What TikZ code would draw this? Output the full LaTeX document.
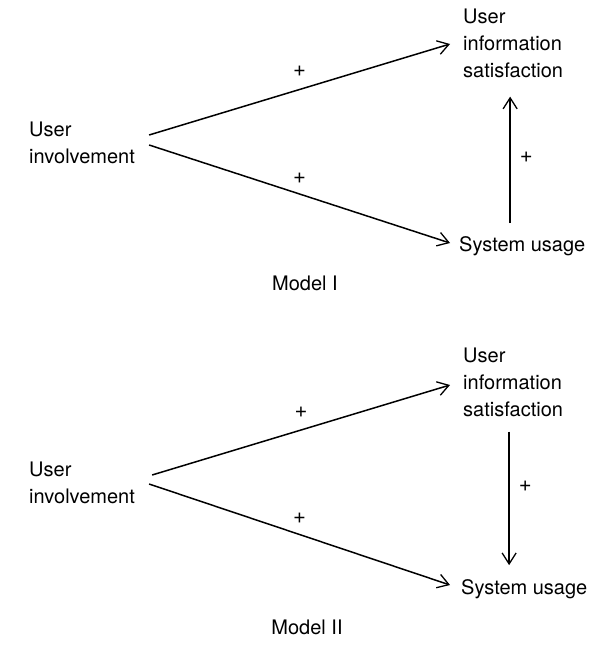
\documentclass[tikz,border=0pt]{standalone}
\usepackage{fontspec}
\setmainfont{TeX Gyre Heros}
\usetikzlibrary{arrows.meta}

\begin{document}
\begin{tikzpicture}[x=1pt,y=-1pt,
  every node/.style={font=\fontsize{20}{27}\selectfont, inner sep=0pt},
  link/.style={line width=1.5pt, -{Straight Barb[length=11pt,width=14pt,line width=1.3pt]}},
  sign/.style={font=\fontsize{22}{22}\selectfont}]
  \useasboundingbox (0,0) rectangle (599,653);

  % Model I
  \node[align=left, anchor=west] (inv1) at (29,143) {User\\involvement};
  \node[align=left, anchor=west] (sat1) at (463,43) {User\\information\\satisfaction};
  \node[anchor=west] (use1) at (459,246) {System usage};
  \draw[link] ([xshift=14pt,yshift=8pt]inv1.east) -- ([xshift=-13pt,yshift=-1pt]sat1.west)
    node[sign, midway, above=12pt] {+};
  \draw[link] ([xshift=14pt,yshift=-2pt]inv1.east) -- ([xshift=-9pt,yshift=3pt]use1.west)
    node[sign, midway, above=10pt] {+};
  \draw[link, shorten <=13pt, shorten >=19pt] ([xshift=-3pt]use1.north -| sat1.south) -- ([xshift=-3pt]sat1.south)
    node[sign, midway, right=9pt] {+};
  \node (m1) at (305,283) {Model I};

  % Model II
  \node[align=left, anchor=west] (inv2) at (29,483) {User\\involvement};
  \node[align=left, anchor=west] (sat2) at (463,382) {User\\information\\satisfaction};
  \node[anchor=west] (use2) at (461,589) {System usage};
  \draw[link] ([xshift=17pt,yshift=8pt]inv2.east) -- ([xshift=-13pt,yshift=-3pt]sat2.west)
    node[sign, midway, above=12pt] {+};
  \draw[link] ([xshift=14pt,yshift=-1pt]inv2.east) -- ([xshift=-11pt,yshift=4pt]use2.west)
    node[sign, midway, above=10pt] {+};
  \draw[link, shorten <=15pt, shorten >=14pt] ([xshift=-4pt]sat2.south) -- ([xshift=-4pt]sat2.south |- use2.north)
    node[sign, pos=0.43, right=9pt] {+};
  \node (m2) at (307,627) {Model II};
\end{tikzpicture}
\end{document}
